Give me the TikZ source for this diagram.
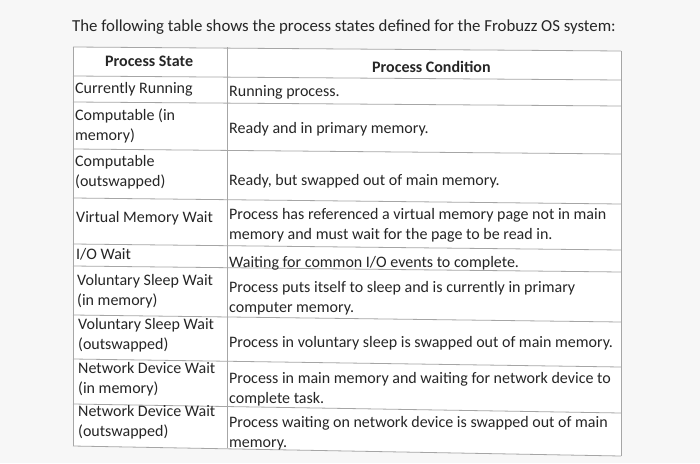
\documentclass[tikz,border=0pt]{standalone}
\usepackage{fontspec}
\setmainfont{Carlito}
\begin{document}
\begin{tikzpicture}[x=1pt,y=-1pt,
  txt/.style={anchor=west,inner sep=0pt,align=left,font=\fontsize{16}{20}\selectfont,text=black!85},
  grid/.style={draw=black!35,line width=0.8pt}]
\fill[black!3] (0,0) rectangle (700,463);
\useasboundingbox (0,0) rectangle (700,463);
\node[txt,font=\fontsize{16.8}{20}\selectfont] (title) at (72,27) {The following table shows the process states defined for the Frobuzz OS system:};
\fill[white] (73,47) -- (621,51) -- (621,456) -- (73,446) -- cycle;
\foreach \y/\o in {47/4,76/4,102/4,149/5,198/6,244/6,266/6,315/7,359/8,404/9,446/10} \draw[grid] (73,\y) -- (621,\y+\o);
\draw[grid] (73,47) -- (73,446);
\draw[grid] (227,47) -- (227,448);
\draw[grid] (621,51) -- (621,456);
\node[txt] (h1) at (105,61) {\textbf{Process State}};
\node[txt] (h2) at (372,67) {\textbf{Process Condition}};
\node[txt] (a1) at (75,89) {Currently Running};
\node[txt] (b1) at (229,92) {Running process.};
\node[txt] (a2) at (75,126) {Computable (in\\memory)};
\node[txt] (b2) at (229,129) {Ready and in primary memory.};
\node[txt] (a3) at (75,172) {Computable\\(outswapped)};
\node[txt] (b3) at (229,181) {Ready, but swapped out of main memory.};
\node[txt] (a4) at (76,218) {Virtual Memory Wait};
\node[txt] (b4) at (229,225) {Process has referenced a virtual memory page not in main\\memory and must wait for the page to be read in.};
\node[txt] (a5) at (76,254) {I/O Wait};
\node[txt] (b5) at (229,263) {Waiting for common I/O events to complete.};
\node[txt] (a6) at (77,291) {Voluntary Sleep Wait\\(in memory)};
\node[txt] (b6) at (229,298) {Process puts itself to sleep and is currently in primary\\computer memory.};
\node[txt] (a7) at (78,335) {Voluntary Sleep Wait\\(outswapped)};
\node[txt] (b7) at (229,343) {Process in voluntary sleep is swapped out of main memory.};
\node[txt] (a8) at (78,379) {Network Device Wait\\(in memory)};
\node[txt] (b8) at (229,389) {Process in main memory and waiting for network device to\\complete task.};
\node[txt] (a9) at (78,422) {Network Device Wait\\(outswapped)};
\node[txt] (b9) at (229,433) {Process waiting on network device is swapped out of main\\memory.};
\end{tikzpicture}
\end{document}
